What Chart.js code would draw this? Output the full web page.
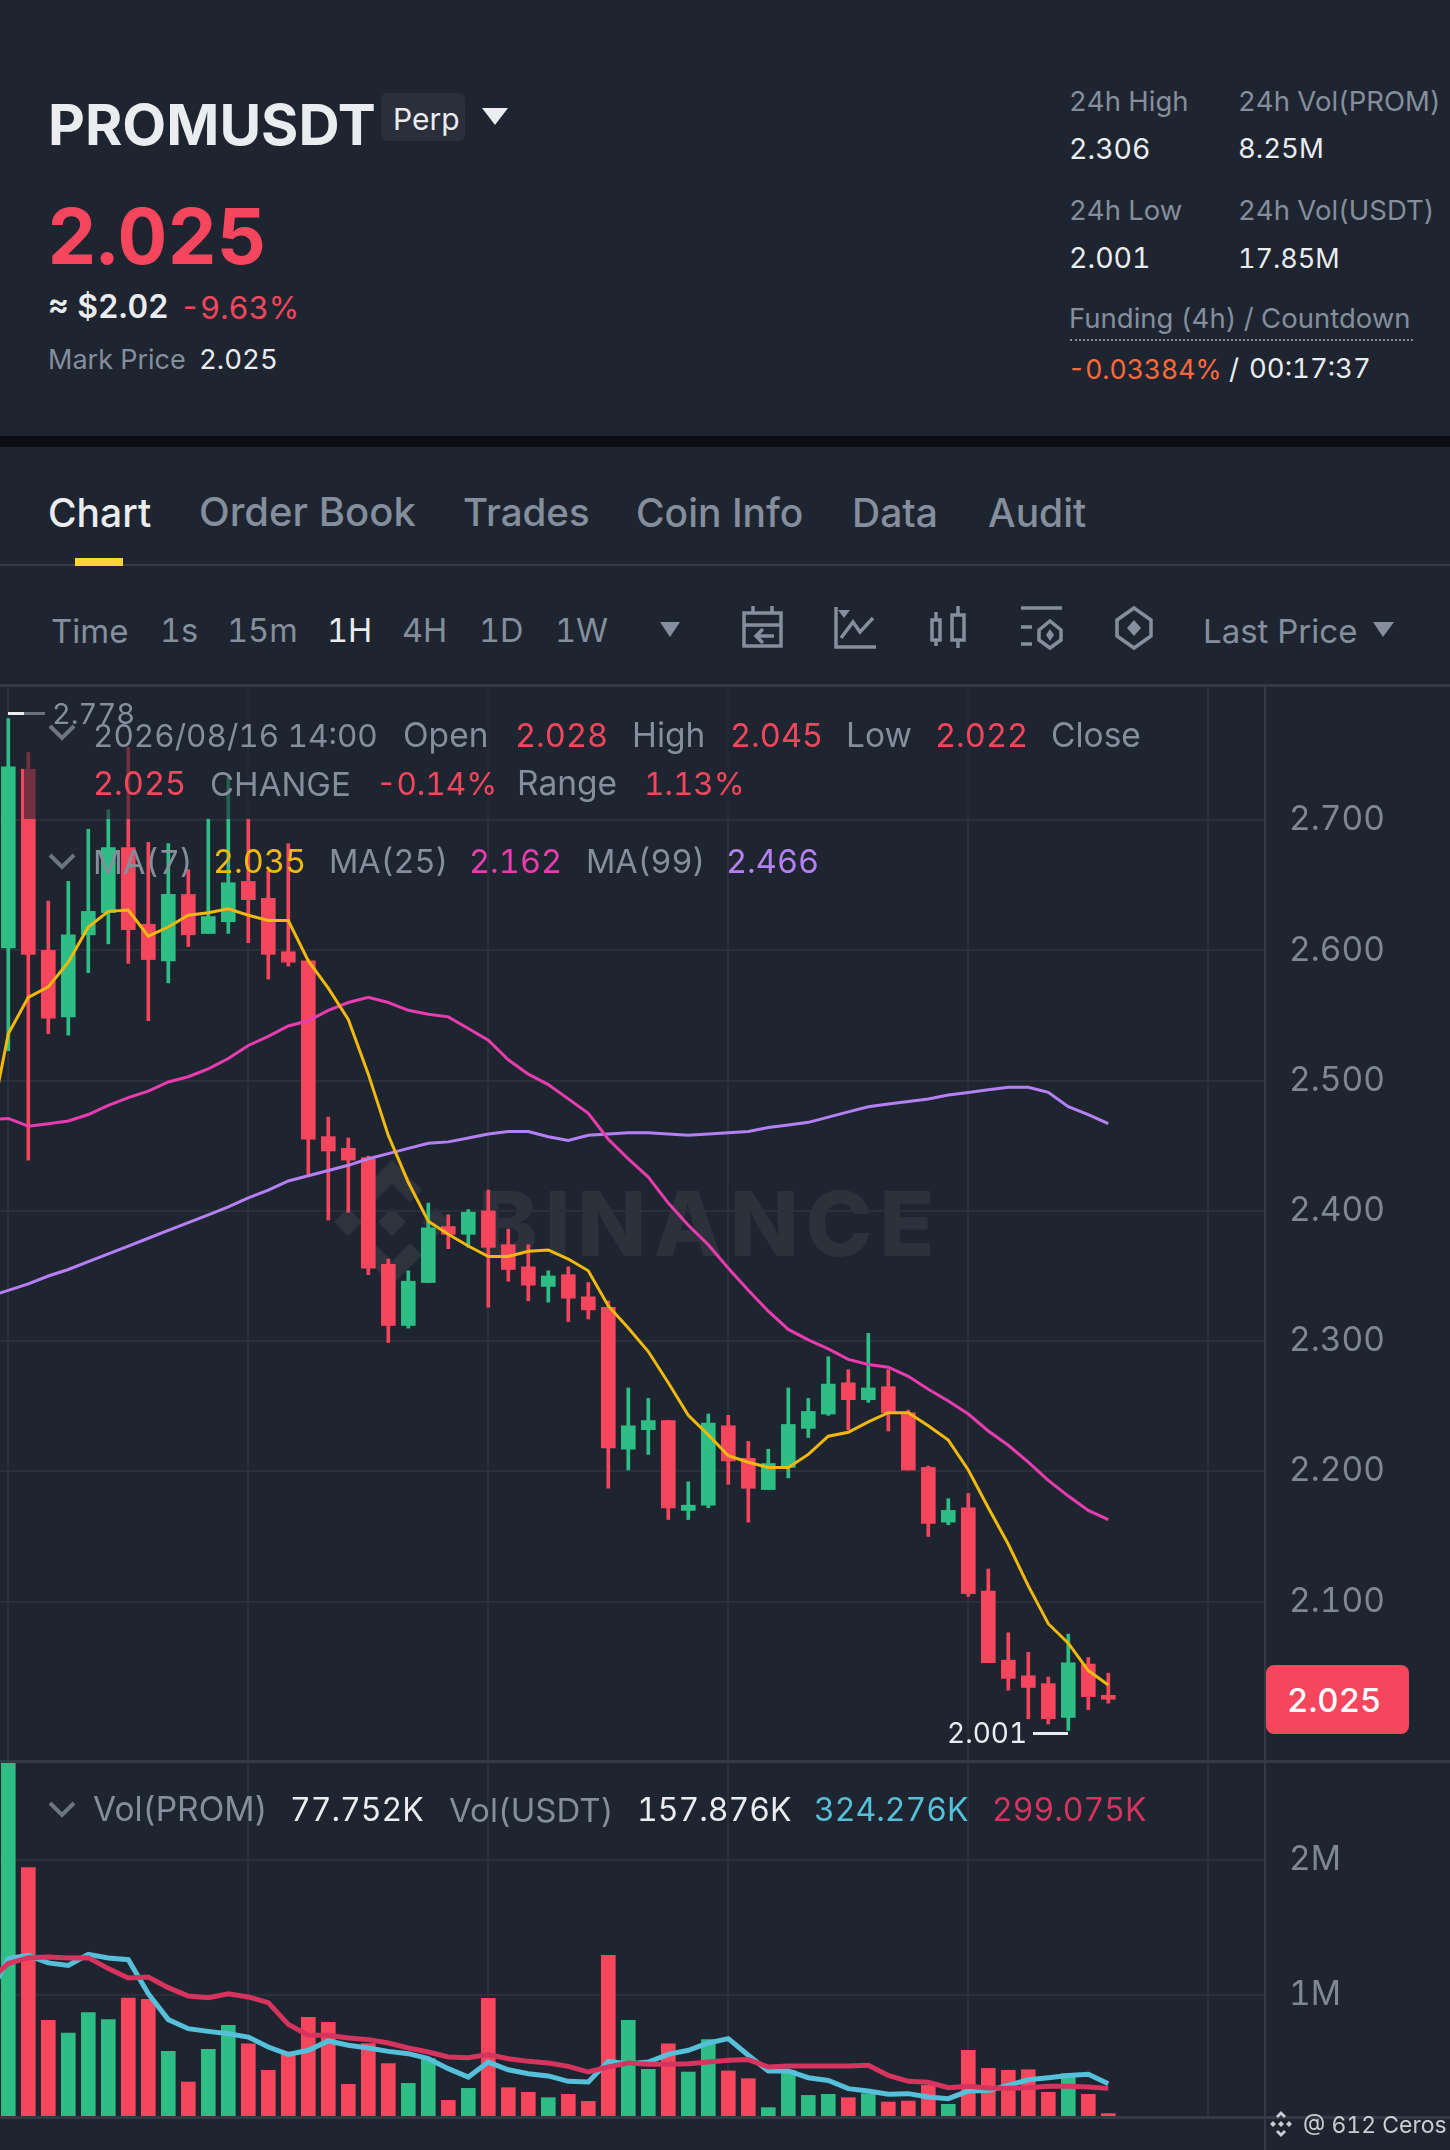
<!DOCTYPE html>
<html>
<head>
<meta charset="utf-8">
<title>PROMUSDT</title>
<script src="https://cdn.jsdelivr.net/npm/chart.js@4"></script>
<style>
    html, body { margin: 0; padding: 0; background: #1f2530; }
    #page { position: relative; width: 1450px; height: 2150px; overflow: hidden; background: #1f2530; font-family: Inter, sans-serif; font-feature-settings: 'tnum' 1; }
    #page span { position: absolute; white-space: nowrap; transform: translateY(-50%); line-height: 1; }
    #page div, #page canvas, #page svg { position: absolute; }
</style>
</head>
<body>
<div id="page">
    <div style="left:0;top:436px;width:1450px;height:11px;background:#0b0d11"></div>
    <div style="left:0;top:564px;width:1450px;height:2px;background:#333945"></div>
    <div style="left:75px;top:558px;width:48px;height:8px;background:#fcd535"></div>
    <div style="left:0;top:684px;width:1450px;height:3px;background:#333945"></div>
    <div style="left:381px;top:93px;width:84px;height:48px;border-radius:6px;background:#2a2f3b"></div>
    <div style="left:1070px;top:339px;width:343px;border-top:2px dotted #848e9c"></div>

    <!-- watermark sits under the candles -->
    <svg style="left:330px;top:1160px" width="125" height="125" viewBox="0 0 125 125" fill="#2f333e">
        <path d="M62 0 L92 30 L80 42 L62 24 L44 42 L32 30 Z"/>
        <path d="M62 125 L92 95 L80 83 L62 101 L44 83 L32 95 Z"/>
        <path d="M18 48 L32 62 L18 76 L4 62 Z"/>
        <path d="M106 48 L120 62 L106 76 L92 62 Z"/>
        <path d="M62 48 L76 62 L62 76 L48 62 Z"/>
    </svg>
    <span style="left:478px;top:1224px;font-size:90px;font-weight:800;letter-spacing:7px;color:#2d313c">BINANCE</span>

    <canvas id="price__chart" width="1450" height="1075" style="left:0;top:687px"></canvas>
    <canvas id="volume__chart" width="1450" height="388" style="left:0;top:1762px"></canvas>

    <div style="left:0;top:1760px;width:1450px;height:3px;background:#333945"></div>
    <div style="left:0;top:2116px;width:1450px;height:3px;background:#333945"></div>
    <div style="left:1264px;top:687px;width:2px;height:1463px;background:#333945"></div>
    <div style="left:8px;top:712px;width:37px;height:3px;background:#eaecef"></div>
    <div style="left:1033px;top:1732px;width:35px;height:3px;background:#eaecef"></div>
    <div style="left:1266px;top:1665px;width:143px;height:69px;border-radius:8px;background:#f6465d"></div>
</div>

<script>
// candles, oldest first
const candleIndex = [0,1,2,3,4,5,6,7,8,9,10,11,12,13,14,15,16,17,18,19,20,21,22,23,24,25,26,27,
    28,29,30,31,32,33,34,35,36,37,38,39,40,41,42,43,44,45,46,47,48,49,50,51,52,53,54,55];
const opens = [2.602,2.739,2.600,2.549,2.612,2.629,2.679,2.620,2.592,2.643,2.613,2.622,2.653,2.640,
    2.599,2.592,2.457,2.448,2.441,2.359,2.312,2.345,2.388,2.382,2.400,2.374,2.357,2.342,
    2.351,2.334,2.326,2.217,2.232,2.239,2.170,2.174,2.235,2.210,2.186,2.203,2.233,2.244,
    2.268,2.255,2.265,2.245,2.203,2.161,2.172,2.108,2.055,2.043,2.037,2.011,2.052,2.028];
const closes = [2.741,2.597,2.548,2.612,2.630,2.679,2.616,2.593,2.643,2.612,2.626,2.652,2.639,2.597,
    2.591,2.455,2.446,2.439,2.356,2.312,2.346,2.387,2.382,2.399,2.372,2.355,2.343,2.350,
    2.333,2.324,2.218,2.235,2.239,2.172,2.174,2.237,2.208,2.187,2.206,2.236,2.246,2.267,
    2.255,2.264,2.245,2.201,2.160,2.170,2.106,2.053,2.041,2.034,2.010,2.053,2.027,2.025];
const highs = [2.778,2.752,2.638,2.653,2.693,2.708,2.756,2.683,2.682,2.662,2.701,2.733,2.701,2.661,
    2.682,2.593,2.472,2.456,2.442,2.363,2.354,2.406,2.397,2.401,2.416,2.386,2.374,2.354,
    2.357,2.345,2.331,2.264,2.256,2.239,2.192,2.244,2.243,2.223,2.217,2.264,2.256,2.288,
    2.278,2.306,2.278,2.247,2.204,2.179,2.183,2.125,2.076,2.061,2.042,2.075,2.057,2.045];
const lows = [2.523,2.439,2.536,2.535,2.583,2.605,2.590,2.546,2.575,2.603,2.613,2.613,2.606,2.578,
    2.588,2.428,2.393,2.399,2.351,2.299,2.310,2.345,2.371,2.372,2.326,2.346,2.331,2.330,
    2.315,2.317,2.187,2.201,2.213,2.163,2.163,2.172,2.190,2.161,2.186,2.195,2.226,2.243,
    2.232,2.253,2.231,2.201,2.150,2.159,2.104,2.053,2.032,2.010,2.006,2.001,2.017,2.022];

// moving averages start one candle earlier, off the left edge
const ma7 = [2.458,2.536,2.564,2.572,2.591,2.618,2.630,2.631,2.611,2.618,2.627,2.629,2.632,2.627,2.623,
    2.623,2.592,2.571,2.547,2.505,2.458,2.422,2.392,2.382,2.373,2.365,2.365,2.369,2.370,
    2.363,2.354,2.327,2.310,2.292,2.268,2.243,2.228,2.212,2.207,2.203,2.203,2.213,2.227,
    2.230,2.238,2.245,2.245,2.235,2.224,2.201,2.172,2.144,2.112,2.083,2.068,2.047,2.036];
const ma25 = [2.470,2.471,2.465,2.467,2.469,2.474,2.481,2.487,2.492,2.499,2.503,2.509,2.517,2.527,2.534,
    2.542,2.546,2.554,2.560,2.564,2.560,2.554,2.551,2.549,2.540,2.531,2.516,2.505,2.497,
    2.486,2.475,2.455,2.440,2.426,2.406,2.389,2.374,2.356,2.339,2.323,2.309,2.301,2.294,
    2.286,2.282,2.280,2.273,2.263,2.254,2.244,2.231,2.220,2.207,2.193,2.181,2.170,2.163];
const ma99 = [2.334,2.339,2.344,2.350,2.355,2.361,2.367,2.373,2.379,2.385,2.391,2.397,2.403,2.410,2.416,
    2.423,2.427,2.431,2.435,2.440,2.444,2.448,2.452,2.453,2.456,2.459,2.461,2.461,2.457,
    2.454,2.458,2.459,2.460,2.460,2.459,2.458,2.459,2.460,2.461,2.464,2.466,2.468,2.472,
    2.476,2.480,2.482,2.484,2.486,2.489,2.491,2.493,2.495,2.495,2.491,2.480,2.474,2.467];

// volume in thousands
const volumes = [2723,1941,810,716,867,815,975,965,580,353,595,773,635,440,575,832,795,336,637,489,
    343,526,217,306,973,311,277,237,262,210,1291,810,447,635,427,667,435,378,163,440,
    254,262,237,267,205,212,328,188,588,454,440,444,277,415,262,119];
const volMaFast = [983,1267,1291,1235,1217,1299,1272,1259,1007,815,748,728,711,686,612,558,588,657,625,605,
    580,563,526,452,390,501,444,415,398,358,353,506,489,501,558,588,642,674,551,435,
    435,385,365,304,286,262,267,242,230,286,291,328,370,385,402,410,341];
const volMaSlow = [1101,1230,1274,1279,1272,1274,1193,1123,1131,1052,990,978,1007,983,941,780,699,699,679,667,
    642,605,575,538,533,556,526,506,494,469,427,464,494,484,484,489,501,514,519,464,
    472,472,472,472,477,402,358,351,311,321,309,306,311,321,321,316,306];

const priceTicks = [2.1, 2.2, 2.3, 2.4, 2.5, 2.6, 2.7];
const volumeTicks = [1000, 2000];
const timeGrid = [0, 12, 24, 36, 48, 60];

const UP = '#2ebd85';
const DOWN = '#f6465d';
const GRID = '#2a2f3a';
const AXIS_TEXT = '#7f8793';

const candleColors = candleIndex.map((i) => (closes[i] >= opens[i] ? UP : DOWN));

const line = (values, color, width, order) => ({
    type: 'line',
    data: values.map((v, i) => ({ x: i - 1, y: v })),
    borderColor: color,
    borderWidth: width,
    pointRadius: 0,
    tension: 0,
    order: order,
});

// labels must not push the plot in from the canvas edges
const noPadding = (s) => {
    s.paddingLeft = 0;
    s.paddingRight = 0;
    s.paddingTop = 0;
    s.paddingBottom = 0;
};

const xScale = () => ({
    type: 'linear',
    min: -0.415,
    max: 62.835,
    offset: false,
    grid: { color: GRID, lineWidth: 2, drawTicks: false, offset: false },
    border: { display: false },
    ticks: { display: false },
    afterBuildTicks: (s) => { s.ticks = timeGrid.map((v) => ({ value: v })); },
    afterFit: (s) => { s.height = 0; noPadding(s); },
});

const yScale = (min, max, ticks, format) => ({
    position: 'right',
    min: min,
    max: max,
    grid: { color: GRID, lineWidth: 2, drawTicks: false },
    border: { display: false },
    ticks: {
        color: AXIS_TEXT,
        font: { family: 'Inter', size: 33.5 },
        padding: 24,
        callback: format,
    },
    afterBuildTicks: (s) => { s.ticks = ticks.map((v) => ({ value: v })); },
    afterFit: (s) => { s.width = 185; noPadding(s); },
});

const baseOptions = {
    responsive: false,
    animation: false,
    events: [],
    devicePixelRatio: 1,
    plugins: { legend: { display: false }, tooltip: { enabled: false } },
    datasets: { bar: { grouped: false } },
};

new Chart(document.getElementById('price__chart'), {
    type: 'bar',
    data: {
        datasets: [
            {
                data: candleIndex.map((i) => ({ x: i, y: [lows[i], highs[i]] })),
                backgroundColor: candleColors,
                barThickness: 3,
                order: 6,
            },
            {
                data: candleIndex.map((i) => ({ x: i, y: [opens[i], closes[i]] })),
                backgroundColor: candleColors,
                barThickness: 14,
                order: 5,
            },
            line(ma99, '#b580f5', 3, 3),
            line(ma25, '#e93cae', 3, 2),
            line(ma7, '#f0b90b', 3, 1),
        ],
    },
    options: {
        ...baseOptions,
        scales: {
            x: xScale(),
            y: yScale(1.9768, 2.8023, priceTicks, (v) => v.toFixed(3)),
        },
    },
});

new Chart(document.getElementById('volume__chart'), {
    type: 'bar',
    data: {
        datasets: [
            {
                data: candleIndex.map((i) => ({ x: i, y: volumes[i] })),
                backgroundColor: candleColors,
                barThickness: 14,
                order: 5,
            },
            line(volMaFast, '#56bfd9', 5, 2),
            line(volMaSlow, '#d6345f', 5, 1),
        ],
    },
    options: {
        ...baseOptions,
        layout: { padding: { bottom: 33 } },
        scales: {
            x: xScale(),
            y: yScale(94, 2723, volumeTicks, (v) => v / 1000 + 'M'),
        },
    },
});

// everything around the plot is plain text on the page
const page = document.getElementById('page');
const put = (text, x, y, size, color, weight) => {
    const s = document.createElement('span');
    s.textContent = text;
    s.style.cssText = `left:${x}px;top:${y}px;font-size:${size}px;color:${color};font-weight:${weight || 400}`;
    page.appendChild(s);
};
const WHITE = '#eaecef';
const GREY = '#848e9c';

const shade = document.createElement('div');
shade.style.cssText = 'left:24px;top:687px;width:1130px;height:132px;background:rgba(31,37,48,0.62)';
page.appendChild(shade);

put('2.778', 52, 713, 29, GREY);

put('PROMUSDT', 48, 124, 57, WHITE, 700);
put('Perp', 393, 119, 30, WHITE);
put('2.025', 47, 236, 77, DOWN, 700);
put('≈ $2.02', 48, 307, 32, WHITE, 600);
put('-9.63%', 180, 307, 31, DOWN);
put('Mark Price', 48, 359, 27, GREY);
put('2.025', 199, 360, 27.5, WHITE);

put('24h High', 1069, 102, 27.5, GREY);
put('24h Vol(PROM)', 1238, 102, 27.5, GREY);
put('2.306', 1069, 149, 28.5, WHITE);
put('8.25M', 1238, 149, 27.5, WHITE);
put('24h Low', 1069, 211, 27.5, GREY);
put('24h Vol(USDT)', 1238, 211, 27.5, GREY);
put('2.001', 1069, 258, 28.5, WHITE);
put('17.85M', 1238, 258, 27, WHITE);
put('Funding (4h) / Countdown', 1069, 319, 27.5, GREY);
put('-0.03384%', 1068, 369, 26.5, '#ff6a3d');
put('/', 1229, 369, 28, WHITE);
put('00:17:37', 1249, 369, 27.5, WHITE);

put('Chart', 48, 512, 39, WHITE, 500);
put('Order Book', 199, 512, 40, GREY, 500);
put('Trades', 463, 512, 38.5, GREY, 500);
put('Coin Info', 636, 512, 39, GREY, 500);
put('Data', 852, 512, 39, GREY, 500);
put('Audit', 988, 512, 39, GREY, 500);

put('Time', 51, 631, 33, GREY);
put('1s', 160, 631, 32.5, GREY);
put('15m', 227, 631, 32.5, GREY);
put('1H', 327, 631, 32.5, WHITE);
put('4H', 402, 631, 32.5, GREY);
put('1D', 479, 631, 32.5, GREY);
put('1W', 555, 631, 32.5, GREY);
put('Last Price', 1203, 631, 33, GREY);

put('2026/08/16 14:00', 93, 736, 31.5, GREY);
put('Open', 403, 736, 33.5, GREY);
put('2.028', 515, 736, 32.5, DOWN);
put('High', 632, 736, 33.5, GREY);
put('2.045', 730, 736, 32.5, DOWN);
put('Low', 846, 736, 33.5, GREY);
put('2.022', 935, 736, 32.5, DOWN);
put('Close', 1051, 736, 33.5, GREY);
put('2.025', 93, 784, 32.5, DOWN);
put('CHANGE', 210, 784, 33, GREY);
put('-0.14%', 376, 784, 31.5, DOWN);
put('Range', 517, 784, 33.5, GREY);
put('1.13%', 644, 784, 31.5, DOWN);

put('MA(7)', 93, 862, 33, GREY);
put('2.035', 213, 862, 32.5, '#f0b90b');
put('MA(25)', 329, 862, 32.5, GREY);
put('2.162', 469, 862, 32.5, '#e93cae');
put('MA(99)', 586, 862, 32.5, GREY);
put('2.466', 726, 862, 32.5, '#b580f5');

put('Vol(PROM)', 93, 1810, 33.5, GREY);
put('77.752K', 290, 1810, 32, WHITE);
put('Vol(USDT)', 449, 1810, 33, GREY);
put('157.876K', 637, 1810, 32, WHITE);
put('324.276K', 814, 1810, 32, '#56bfd9');
put('299.075K', 992, 1810, 32, '#d6345f');

put('2.001', 947, 1733, 28, WHITE);
put('2.025', 1287, 1700, 33, '#ffffff', 500);

const logo = `<path d="M11 1 L16 6 L14 8 L11 5 L8 8 L6 6 Z M11 27 L16 22 L14 20 L11 23 L8 20 L6 22 Z M3 11 L6 14 L3 17 L0 14 Z M19 11 L22 14 L19 17 L16 14 Z M11 11 L14 14 L11 17 L8 14 Z" fill="#c9ccd1"/>`;
put('@ 612 Ceros', 1303, 2125, 23, '#c9ccd1');
page.insertAdjacentHTML('beforeend', `<svg style="left:1270px;top:2110px" width="22" height="28" viewBox="0 0 22 28">${logo}</svg>`);

// toolbar icons, triangles and chevrons
const icons = `
<svg style="left:0;top:0" width="1450" height="2150" fill="none" stroke="#848e9c" stroke-width="3.5">
  <path d="M482 108 H508 L495 125 Z" fill="#eaecef" stroke="none"/>
  <path d="M660 622 H680 L670 637 Z" fill="#848e9c" stroke="none"/>
  <path d="M1373 622 H1394 L1383 637 Z" fill="#848e9c" stroke="none"/>
  <path d="M744 613 H781 V646 H744 Z M744 625 H781 M753 606 V613 M772 606 V613 M774 636 H757 M763 629 L756 636 L763 643"/>
  <path d="M836 607 V647 H876 M841 638 L853 622 L860 632 L873 618"/>
  <path d="M838 610 H850 L844 618 Z" fill="#848e9c" stroke="none"/>
  <path d="M932 620 H940 V640 H932 Z M936 612 V620 M936 640 V646 M952 615 H964 V640 H952 Z M958 606 V615 M958 640 V648"/>
  <path d="M1021 608 H1062 M1021 627 H1032 M1021 644 H1032 M1050 621 L1061 630 V640 L1050 648 L1039 640 V630 Z"/>
  <path d="M1050 629 L1054 635 L1050 641 L1046 635 Z" fill="#848e9c" stroke="none"/>
  <path d="M1134 608 L1151 620 V636 L1134 648 L1117 636 V620 Z"/>
  <path d="M1134 620 L1141 628 L1134 636 L1127 628 Z" fill="#848e9c" stroke="none"/>
  <path d="M50 726 L62 738 L74 726 M50 855 L62 867 L74 855 M50 1803 L62 1815 L74 1803" stroke="#6d7582" stroke-width="4"/>
</svg>`;
page.insertAdjacentHTML('beforeend', icons);
</script>
</body>
</html>
